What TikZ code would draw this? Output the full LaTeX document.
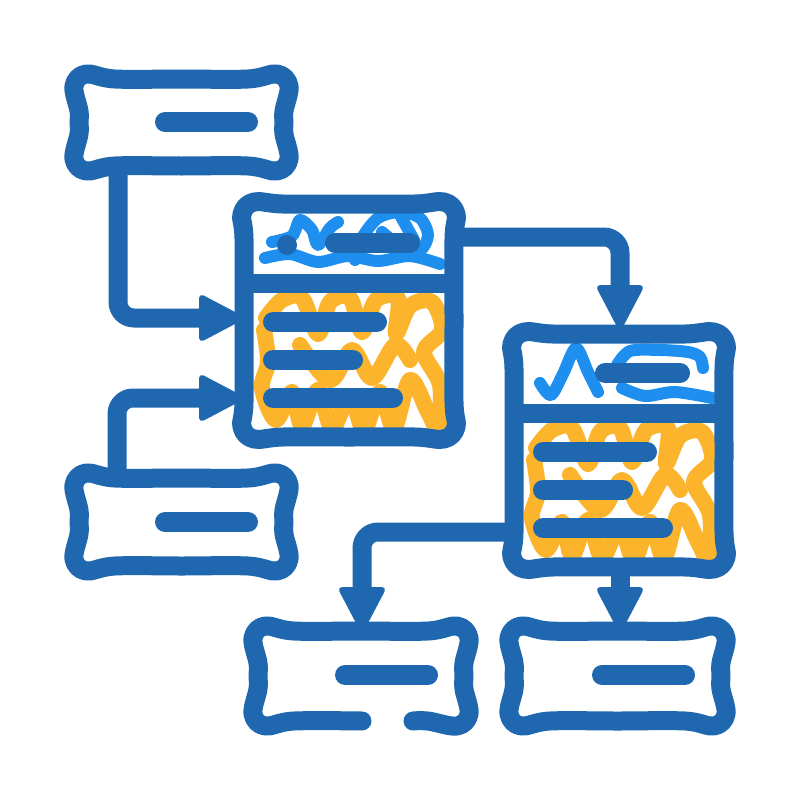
\documentclass[tikz,border=0pt]{standalone}
\definecolor{dblue}{HTML}{1F68B0}
\definecolor{lblue}{HTML}{1E8FEE}
\definecolor{orng}{HTML}{FBB42B}
\tikzset{
 stroke/.style={draw=dblue,line width=19pt,line cap=round,line join=round},
 dashln/.style={draw=dblue,line width=20pt,line cap=round},
 lscrib/.style={draw=lblue,line width=12pt,line cap=round,line join=round},
 oscrib/.style={draw=orng,line width=16pt,line cap=round,line join=round},
 head/.style={fill=dblue,draw=dblue,line width=6pt,line join=round},
}
% x0 y0 x1 y1 bulge
\newcommand\bonebox[5]{%
\draw[stroke] plot[smooth cycle, tension=0.6] coordinates {
({#1+13},{#2+1}) ({#1+42},{#2+#5}) ({(#1+#3)/2},{#2+#5}) ({#3-42},{#2+#5}) ({#3-13},{#2+1})
({#3-1},{#2+13}) ({#3-#5},{#2+38}) ({#3-#5},{(#2+#4)/2}) ({#3-#5},{#4-38}) ({#3-1},{#4-13})
({#3-13},{#4-1}) ({#3-42},{#4-#5}) ({(#1+#3)/2},{#4-#5}) ({#1+42},{#4-#5}) ({#1+13},{#4-1})
({#1+1},{#4-13}) ({#1+#5},{#4-38}) ({#1+#5},{(#2+#4)/2}) ({#1+#5},{#2+38}) ({#1+1},{#2+13})};}
\newcommand\headR[1]{\path[head] ([shift={(-38,-20)}]#1) -- (#1) -- ([shift={(-38,20)}]#1) -- cycle;}
\newcommand\headD[1]{\path[head] ([shift={(-20,-38)}]#1) -- (#1) -- ([shift={(20,-38)}]#1) -- cycle;}
\newcommand\orangescrib{%
\draw[oscrib] plot[smooth,tension=0.55] coordinates {(264,330) (268,362) (262,388) (276,420) (292,392) (302,426) (318,390) (332,428) (350,396) (364,430) (380,392) (394,428) (410,380) (428,412) (438,428) (440,385) (424,352) (442,330) (432,302) (410,306) (396,334) (398,298) (376,300) (362,332) (350,298) (330,302) (318,334) (302,298) (282,300) (266,318)};
\draw[oscrib] plot[smooth,tension=0.55] coordinates {(300,345) (330,380) (352,350) (372,378) (395,345) (410,360)};
}
\newcommand\dashes{%
\draw[dashln] (273,322) -- (377,322);
\draw[dashln] (273,360) -- (353,360);
\draw[dashln] (273,398) -- (393,398);
\draw[dashln] (335,243) -- (410,243);
}
\begin{document}
\begin{tikzpicture}[x=1pt,y=-1pt]
\useasboundingbox[fill=white] (0,0) rectangle (800,800);

% ---------- panel 1 ----------
\draw[lscrib] plot[smooth] coordinates {(265,258) (290,254) (318,262) (348,256) (378,261) (410,256) (440,264)};
\draw[lscrib] plot[smooth] coordinates {(272,242) (292,236) (300,220) (312,230) (318,245) (330,228) (338,222)};
\draw[lscrib] plot[smooth] coordinates {(355,260) (362,238) (378,218) (400,212) (420,218) (428,235) (420,250) (398,244) (382,232)};
\draw[lscrib] (400,215) -- (414,240);
\orangescrib
\fill[dblue] (287,245) circle (10);
\dashes
\bonebox{241}{201}{457}{440}{3}
\draw[stroke] (245,283) -- (453,283);
\coordinate (p1in1) at (240,318);
\coordinate (p1in2) at (240,398);
\coordinate (p1out) at (457,237);

% ---------- panel 2 ----------
\draw[lscrib] plot[smooth] coordinates {(540,383) (551,395) (563,374) (576,348) (588,372) (598,392)};
\draw[lscrib] plot[smooth] coordinates {(617,365) (630,351) (660,350) (688,352) (700,357) (703,368)};
\draw[lscrib] plot[smooth] coordinates {(622,388) (645,396) (675,392) (712,398)};
\begin{scope}[shift={(270,130)}]
\orangescrib
\dashes
\end{scope}
\bonebox{511}{331}{727}{570}{3}
\draw[stroke] (515,413) -- (723,413);
\coordinate (p2out) at (511,532);
\coordinate (p2bot) at (620,570);
\coordinate (p2in) at (620,326);

% ---------- boxes ----------
\bonebox{73}{73}{290}{172}{6}
\draw[dashln] (165,122) -- (248,122);
\coordinate (aOut) at (118,172);

\bonebox{73}{472}{290}{572}{6}
\draw[dashln] (165,522) -- (248,522);
\coordinate (bOut) at (117,472);

% box C with a gap in its bottom edge
\draw[stroke] plot[smooth, tension=0.6] coordinates {(362,721) (294,721) (265,726) (253,714) (258,689) (258,676) (258,663) (253,638) (265,626) (294,631) (361,631) (428,631) (457,626) (469,638) (464,663) (464,676) (464,689) (469,714) (457,726) (428,721) (413,721)};
\draw[dashln] (345,675) -- (428,675);
\coordinate (cIn) at (362,628);

\bonebox{508}{625}{727}{727}{6}
\draw[dashln] (602,675) -- (685,675);
\coordinate (dIn) at (620,628);

% ---------- connectors ----------
\draw[stroke,rounded corners=16] (aOut) |- ([shift={(-30,0)}]p1in1);
\headR{p1in1}
\draw[stroke,rounded corners=16] (bOut) |- ([shift={(-30,0)}]p1in2);
\headR{p1in2}
\draw[stroke,rounded corners=16] (p1out) -| ([shift={(0,-30)}]p2in);
\headD{p2in}
\draw[stroke,rounded corners=16] (p2out) -| ([shift={(0,-30)}]cIn);
\headD{cIn}
\draw[stroke] (p2bot) -- ([shift={(0,-30)}]dIn);
\headD{dIn}
\end{tikzpicture}
\end{document}
